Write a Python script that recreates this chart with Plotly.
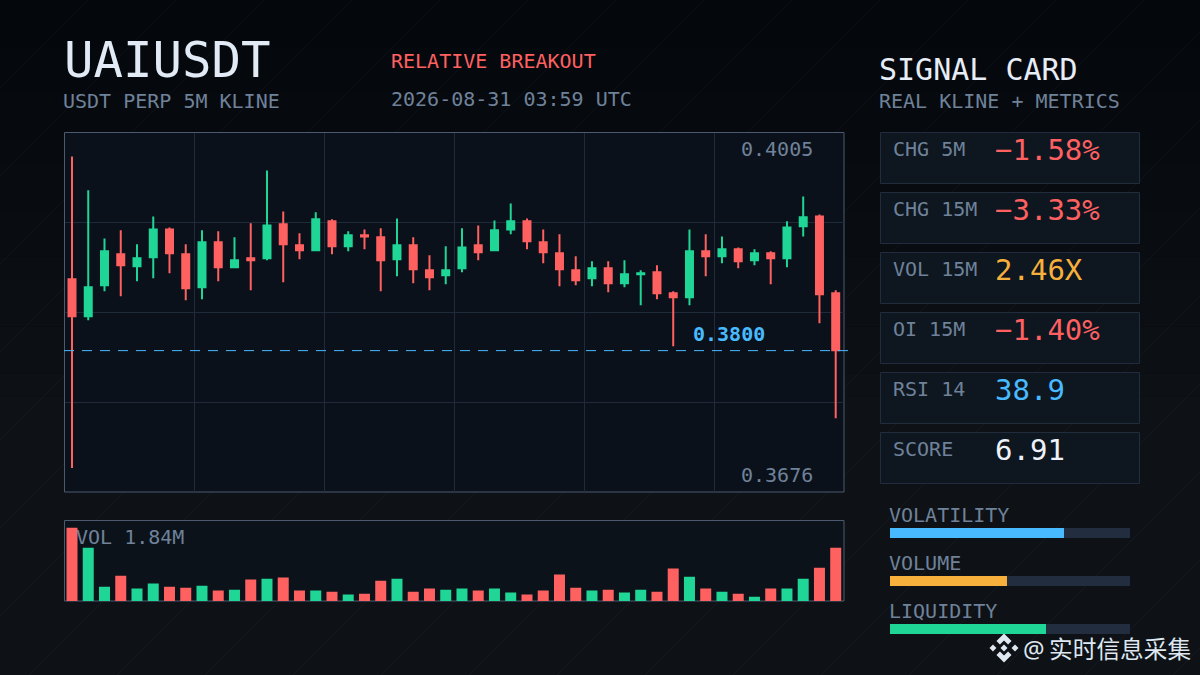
import plotly.graph_objects as go

W, H = 1200, 675

# ---- data -----------------------------------------------------------------
opens = [.38753,.38363,.38690,.39017,.38890,.38985,.39280,.39017,.38669,.39143,.38880,.38974,
         .38974,.39333,.39112,.39059,.39365,.39101,.39217,.39196,.38964,.39112,.38848,.38795,
         .38869,.39112,.39059,.39280,.39365,.39143,.39027,.38848,.38764,.38869,.38711,.38806,
         .38827,.38605,.38563,.39048,.38996,.39069,.38953,.39027,.38974,.39312,.39417,.38605]
highs = [.40050,.39692,.39185,.39270,.39122,.39417,.39301,.39122,.39270,.39259,.39196,.39344,
         .39902,.39470,.39238,.39460,.39386,.39259,.39280,.39291,.39396,.39196,.39006,.39101,
         .39291,.39322,.39375,.39554,.39396,.39280,.39228,.38996,.38943,.38943,.38953,.38848,
         .38901,.38627,.39280,.39228,.39206,.39090,.39069,.39048,.39365,.39628,.39438,.38637]
lows = [.36760,.38321,.38627,.38574,.38732,.38764,.38816,.38532,.38542,.38732,.38869,.38637,
        .38953,.38721,.38964,.39048,.39017,.39048,.39069,.38627,.38785,.38711,.38637,.38700,
        .38827,.38953,.39048,.39228,.39069,.38922,.38679,.38690,.38679,.38616,.38669,.38479,
        .38542,.38046,.38479,.38785,.38922,.38869,.38901,.38700,.38880,.39206,.38289,.37287]
closes = [.38363,.38669,.39048,.38901,.38974,.39280,.39027,.38658,.39143,.38880,.38953,.38953,
          .39322,.39122,.39059,.39386,.39101,.39217,.39206,.38953,.39112,.38858,.38774,.38848,
          .39090,.39038,.39270,.39365,.39154,.39038,.38858,.38742,.38869,.38711,.38806,.38816,
          .38605,.38563,.39048,.38996,.39069,.38943,.39027,.38974,.39301,.39407,.38595,.38004]
volumes = [2.53,1.84,.49,.87,.43,.60,.49,.46,.53,.36,.39,.74,.77,.81,.36,.36,.32,.22,.25,.70,.77,.32,.43,.39,
           .43,.36,.43,.29,.22,.36,.91,.46,.36,.39,.29,.39,.32,1.12,.84,.43,.32,.25,.15,.43,.43,.77,1.15,1.84]
level = 0.38
meter_names = ["VOLATILITY", "VOLUME", "LIQUIDITY"]
meter_values = [0.725, 0.4875, 0.65]
card_labels = ["CHG 5M", "CHG 15M", "VOL 15M", "OI 15M", "RSI 14", "SCORE"]
card_values = ["\u22121.58%", "\u22123.33%", "2.46X", "\u22121.40%", "38.9", "6.91"]

# ---- style ----------------------------------------------------------------
RED, GREEN, BLUE, AMBER = "#ff6060", "#1fd696", "#48baff", "#f8b03c"
GRAY, WHITE = "#6f8299", "#e2eaf5"
MONO = "DejaVu Sans Mono"
card_colors = [RED, RED, AMBER, RED, BLUE, "#eef2f8"]
meter_colors = [BLUE, AMBER, GREEN]


def px(x):
    return x / W


def py(y):
    return 1 - y / H


def rect(x0, y0, x1, y1, fill, line=None, lw=1):
    return dict(type="rect", xref="paper", yref="paper", x0=px(x0), x1=px(x1), y0=py(y0), y1=py(y1),
                fillcolor=fill, line=dict(color=line or fill, width=lw if line else 0), layer="below")


def poly(points, cx, cy, r, fill):
    d = "M" + "L".join(f"{px(cx + a * r):.5f},{py(cy - b * r):.5f}" for a, b in points) + "Z"
    return dict(type="path", xref="paper", yref="paper", path=d, fillcolor=fill, line=dict(width=0), layer="above")


shapes = []
# background gradient
steps = 18
for i in range(steps):
    t = i / (steps - 1)
    c = (int(4 + 10 * t), int(7 + 10 * t), int(12 + 10 * t))
    y0 = i * 420 / steps
    y1 = H if i == steps - 1 else (i + 1) * 420 / steps
    shapes.append(rect(0, y0, W, y1, "rgb(%d,%d,%d)" % c))
# faint diagonal hatching
for x in range(-H, W, 88):
    shapes.append(dict(type="line", xref="paper", yref="paper", x0=px(x), x1=px(x + H), y0=py(H), y1=py(0),
                       line=dict(color="rgba(130,160,190,0.055)", width=1), layer="below"))
# panels
shapes.append(rect(64.5, 132.5, 844, 492, "#0b111a", "#4c5a70"))
shapes.append(rect(64.5, 520.5, 844, 601, "#0c121a", "#4c5a70"))
# cards
for k in range(6):
    shapes.append(rect(880.5, 132.5 + 60 * k, 1139.5, 183.5 + 60 * k, "#0e1620", "#212d3d"))
# level line
shapes.append(dict(type="line", xref="paper", yref="y", x0=px(64), x1=px(848), y0=level, y1=level,
                   line=dict(color=BLUE, width=1, dash="10px,8px"), layer="above"))
# watermark logo
lx, ly, lr = 1004, 648, 14.5
dot = [(0, .24), (.24, 0), (0, -.24), (-.24, 0)]
for ox in (0, -.76, .76):
    shapes.append(poly([(a + ox, b) for a, b in dot], lx, ly, lr, "#dfe7f1"))
chev = [(0, 1), (.52, .48), (.28, .24), (0, .52), (-.28, .24), (-.52, .48)]
shapes.append(poly(chev, lx, ly, lr, "#dfe7f1"))
shapes.append(poly([(a, -b) for a, b in chev], lx, ly, lr, "#dfe7f1"))


def label(x, y, text, size, color, font=MONO, anchor="left", weight="normal"):
    return dict(xref="paper", yref="paper", x=px(x), y=py(y), text=text, showarrow=False,
                xanchor=anchor, yanchor="middle", align="left", borderpad=0, borderwidth=0,
                font=dict(family=font, size=size, color=color, weight=weight))


ann = [
    label(64, 60, "UAIUSDT", 49, WHITE),
    label(63, 101, "USDT PERP 5M KLINE", 20, GRAY),
    label(391, 61, "RELATIVE BREAKOUT", 20, RED),
    label(391, 99, "2026-08-31 03:59 UTC", 20, GRAY),
    label(879, 69, "SIGNAL CARD", 30, "#e6edf6"),
    label(879, 101, "REAL KLINE + METRICS", 20, GRAY),
    label(741, 149, "0.4005", 20, GRAY),
    label(741, 475, "0.3676", 20, GRAY),
    label(693, 334, "0.3800", 20, BLUE, weight="bold"),
    label(76, 537, "VOL 1.84M", 20, GRAY),
    label(1023, 648, "@", 24, "#dfe7f1", font="Noto Sans"),
    label(1049, 648, "实时信息采集", 23.7, "#dfe7f1", font="Noto Sans CJK SC"),
]
for k, (t, v, c) in enumerate(zip(card_labels, card_values, card_colors)):
    ann.append(label(893, 149 + 60 * k, t, 20, GRAY))
    ann.append(label(995, 150 + 60 * k, v, 29, c))
for k, n in enumerate(meter_names):
    ann.append(label(889, 515 + 48 * k, n, 20, GRAY))

fig = go.Figure()
xs = list(range(len(opens)))
fig.add_trace(go.Candlestick(
    x=xs, open=opens, high=highs, low=lows, close=closes, xaxis="x", yaxis="y", whiskerwidth=0,
    increasing=dict(line=dict(color=GREEN, width=2), fillcolor=GREEN),
    decreasing=dict(line=dict(color=RED, width=2), fillcolor=RED),
    showlegend=False, hoverinfo="skip"))
fig.add_trace(go.Bar(
    x=xs, y=volumes, xaxis="x2", yaxis="y2", width=11 / 16.25,
    marker=dict(color=[GREEN if c >= o else RED for o, c in zip(opens, closes)], line=dict(width=0)),
    showlegend=False, hoverinfo="skip"))
fig.add_trace(go.Bar(
    x=[1] * 3, y=meter_names, orientation="h", xaxis="x3", yaxis="y3", width=10 / 48,
    marker=dict(color="#222e40", line=dict(width=0)), showlegend=False, hoverinfo="skip"))
fig.add_trace(go.Bar(
    x=meter_values, y=meter_names, orientation="h", xaxis="x3", yaxis="y3", width=10 / 48,
    marker=dict(color=meter_colors, line=dict(width=0)), showlegend=False, hoverinfo="skip"))

xr = [-0.4615, 47.51]
hidden = dict(visible=False, showgrid=False, zeroline=False, fixedrange=True)
fig.update_layout(
    width=W, height=H, margin=dict(l=0, r=0, t=0, b=0, pad=0),
    paper_bgcolor="#0b0e13", plot_bgcolor="rgba(0,0,0,0)",
    barmode="overlay", boxgap=1 - 7 / 16.25, boxgroupgap=0, showlegend=False,
    shapes=shapes, annotations=ann, hovermode=False,
    xaxis=dict(domain=[px(64.5), px(844)], range=xr, tick0=xr[0], dtick=8, showgrid=True,
               gridcolor="#1f2a3a", gridwidth=1, zeroline=False, showticklabels=False, ticks="",
               rangeslider=dict(visible=False), fixedrange=True, anchor="y"),
    yaxis=dict(domain=[py(492), py(132.5)], range=[.36507, .40303], tick0=.36507, dtick=.00949, showgrid=True,
               gridcolor="#1f2a3a", gridwidth=1, zeroline=False, showticklabels=False, ticks="",
               fixedrange=True, anchor="x"),
    xaxis2=dict(domain=[px(64.5), px(844)], range=xr, anchor="y2", **hidden),
    yaxis2=dict(domain=[py(601), py(521)], range=[0, 2.76], anchor="x2", **hidden),
    xaxis3=dict(domain=[px(890), px(1130)], range=[0, 1], anchor="y3", **hidden),
    yaxis3=dict(domain=[py(653), py(509)], autorange="reversed", anchor="x3", type="category", **hidden),
)

fig.write_html("out.html", config=dict(displayModeBar=False),
               post_script="document.body.style.margin='0';document.documentElement.style.overflow='hidden';")
